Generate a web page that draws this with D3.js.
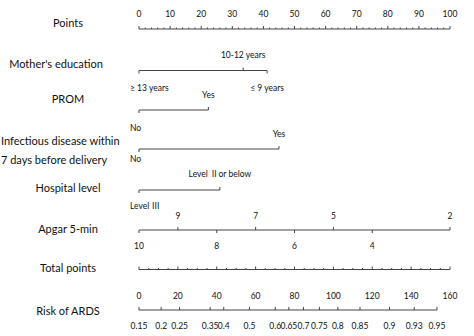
<!DOCTYPE html>
<html><head><meta charset="utf-8">
<script src="https://cdn.jsdelivr.net/npm/d3@7"></script>
<style>body{margin:0;background:#fff}svg{display:block}text{font-family:Lato,"Noto Sans CJK SC","Open Sans",sans-serif;fill:#111}</style>
</head><body><div id="c"></div>
<script>
// ---- data ----
const pointsTicks = [0,10,20,30,40,50,60,70,80,90,100];
const motherLevels = ["≥ 13 years","10-12 years","≤ 9 years"];
const motherPoints = [0, 33.5, 41.2];
const promLevels = ["No","Yes"];
const promPoints = [0, 22.3];
const infLevels = ["No","Yes"];
const infPoints = [0, 45];
const hospLevels = ["Level Ⅲ","Level Ⅱor below"];
const hospPoints = [0, 26];
const apgarLevels = ["10","9","8","7","6","5","4","2"];
const apgarPoints = [0, 12.5, 25, 37.5, 50, 62.5, 75, 100];
const totalTicks = [0,20,40,60,80,100,120,140,160];
const riskLabels = ["0.15","0.2","0.25","0.35","0.4","0.5","0.6","0.65","0.7","0.75","0.8","0.85","0.9","0.93","0.95"];
const riskTotal = [0, 11.4, 20.9, 36.6, 43.6, 56.8, 70.1, 77.1, 84.6, 92.8, 102.3, 113.7, 128.9, 141.6, 153.3];
const rowNames = ["Points","Mother's education","PROM","Infectious disease within\n7 days before delivery","Hospital level","Apgar 5-min","Total points","Risk of ARDS"];

// ---- layout ----
const W = 474, H = 336;
const svg = d3.select("#c").append("svg").attr("width", W).attr("height", H);
const x = d3.scaleLinear().domain([0,100]).range([139,450]);
const xt = d3.scaleLinear().domain([0,160]).range([139,450]);
const lineY = [29, 70.5, 110, 149, 190, 230, 269.5, 310];
const labelY = [23, 64, 99, 141, 188, 229, 268, 311];
const lineColor = "#444";
const tickFont = 8.5;

// Row labels
rowNames.forEach((name, i) => {
  const lines = name.split("\n");
  if (lines.length > 1) {
    lines.forEach((l, j) => {
      svg.append("text").attr("x", 1).attr("y", labelY[i] + j*19).attr("dy", "0.35em")
        .attr("font-size", 11).text(l);
    });
  } else {
    svg.append("text").attr("x", i === 1 ? 56 : 68).attr("y", labelY[i]).attr("dy", "0.35em")
      .attr("text-anchor", "middle").attr("font-size", 11).text(name);
  }
});

function hline(scale, y, a, b) {
  svg.append("line").attr("x1", scale(a)).attr("x2", scale(b)).attr("y1", y).attr("y2", y)
    .attr("stroke", lineColor).attr("stroke-width", 1);
}
function tick(scale, v, y, len) {
  svg.append("line").attr("x1", scale(v)).attr("x2", scale(v)).attr("y1", y).attr("y2", y + len)
    .attr("stroke", lineColor).attr("stroke-width", 1);
}
function label(scale, v, y, txt, anchor) {
  const t = svg.append("text").attr("y", y).attr("dy", "0.35em")
    .attr("font-size", tickFont).text(txt);
  if (anchor === "start") t.attr("x", scale(v) - 9).attr("text-anchor", "start");
  else t.attr("x", scale(v)).attr("text-anchor", "middle");
}

// Points axis (top)
{
  const y = lineY[0];
  hline(x, y, 0, 100);
  d3.range(0, 100.01, 2).forEach(v => tick(x, v, y, pointsTicks.includes(v) ? -3 : -1.5));
  pointsTicks.forEach(v => label(x, v, 14, String(v)));
}

// Categorical rows: first level below, others above
function catRow(levels, pts, i, aboveY, belowY) {
  const y = lineY[i];
  hline(x, y, d3.min(pts), d3.max(pts));
  levels.forEach((lv, k) => tick(x, pts[k], y, k > 0 ? -3 : 3));
  levels.forEach((lv, k) => {
    if (k === 0) label(x, pts[k], belowY, lv, "start");
    else label(x, pts[k], aboveY, lv);
  });
}
// Mother's education: ends below, middle above
{
  const i = 1, y = lineY[i];
  hline(x, y, 0, d3.max(motherPoints));
  tick(x, motherPoints[0], y, 3);
  tick(x, motherPoints[1], y, -3);
  tick(x, motherPoints[2], y, 3);
  label(x, motherPoints[0], 88, motherLevels[0], "start");
  label(x, motherPoints[1], 55, motherLevels[1]);
  label(x, motherPoints[2], 88, motherLevels[2]);
}
catRow(promLevels, promPoints, 2, 95, 128);
catRow(infLevels, infPoints, 3, 134, 159);
catRow(hospLevels, hospPoints, 4, 174.5, 206.5);

// Apgar: odd labels above, even below
{
  const i = 5, y = lineY[i];
  hline(x, y, 0, d3.max(apgarPoints));
  apgarLevels.forEach((lv, k) => {
    const odd = (+lv) % 2 === 1 || k === apgarLevels.length - 1;
    tick(x, apgarPoints[k], y, odd ? -3 : 3);
    label(x, apgarPoints[k], odd ? 216.5 : 246, lv);
  });
}

// Total points
{
  const y = lineY[6];
  hline(xt, y, 0, 160);
  d3.range(0, 160.01, 5).forEach(v => tick(xt, v, y, totalTicks.includes(v) ? -3 : -1.5));
  totalTicks.forEach(v => label(xt, v, 296, String(v)));
}

// Risk of ARDS
{
  const y = lineY[7];
  hline(xt, y, 0, d3.max(riskTotal));
  riskTotal.forEach((t, k) => {
    tick(xt, t, y, -3);
    label(xt, t, 326, riskLabels[k]);
  });
}
</script></body></html>
